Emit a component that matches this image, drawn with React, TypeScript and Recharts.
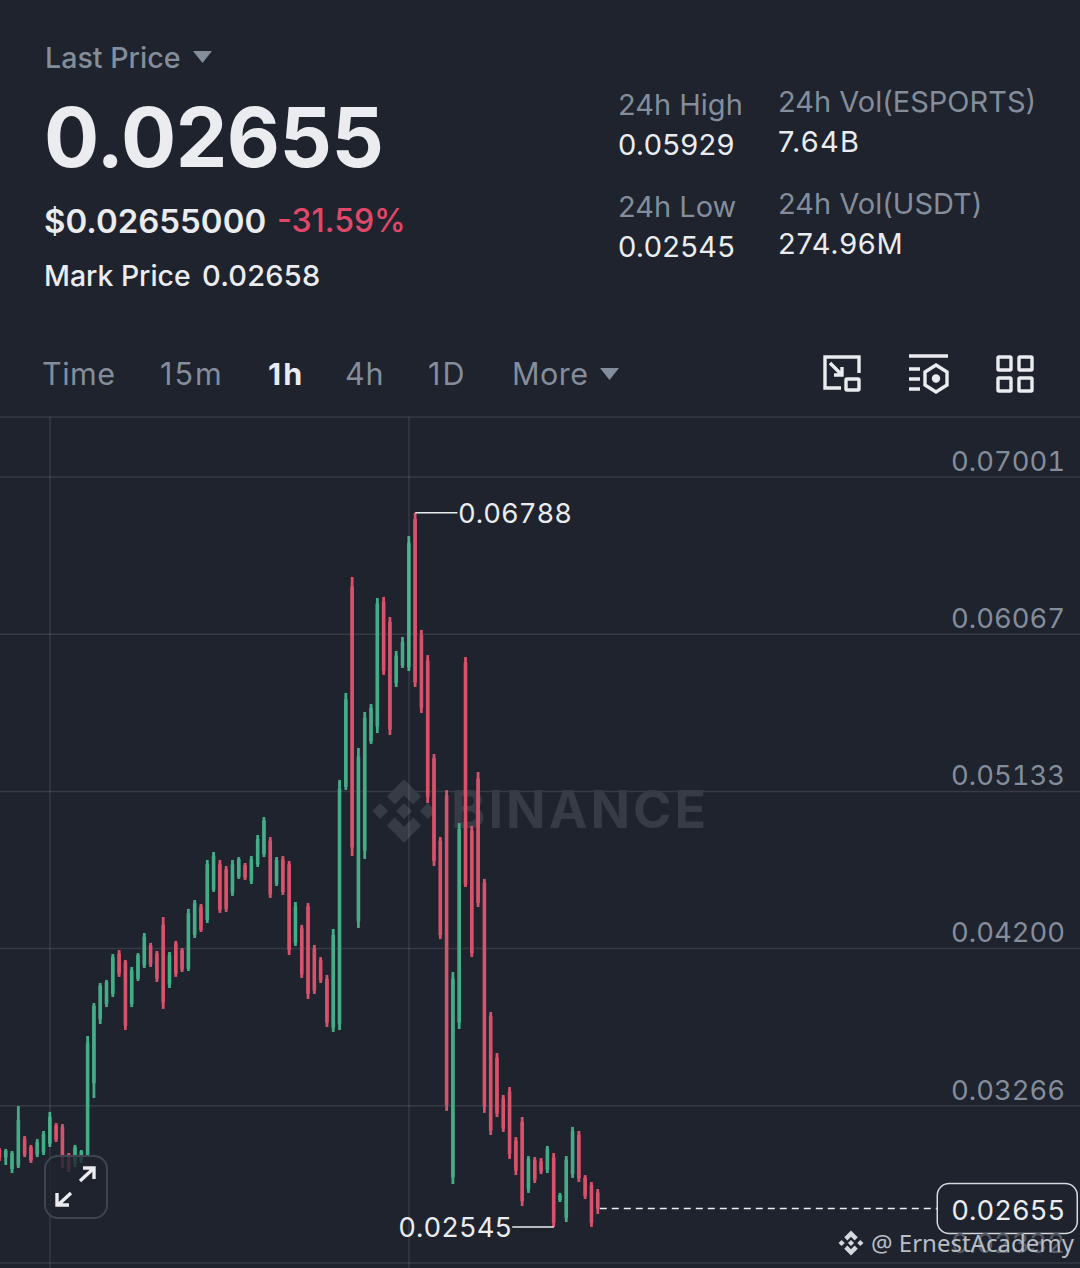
import React from 'react';
import { ComposedChart, Bar, XAxis, YAxis, CartesianGrid, ReferenceLine, ReferenceDot } from 'recharts';

const highs = [.03015,.03009,.02997,.03264,.03086,.03033,.03068,.03116,.03229,.03163,.03157,.02985,.03033,.03003,.0368,.03876,.03995,.04013,.04167,.04191,.04132,.0409,.04173,.04292,.04233,.04185,.04387,.04179,.04245,.04203,.04435,.04488,.04464,.04726,.04773,.04726,.0469,.04726,.04743,.04708,.04749,.04874,.04981,.04862,.04743,.04749,.0472,.04476,.0434,.0447,.04221,.04149,.04043,.04316,.05201,.05718,.06407,.05391,.05605,.05652,.06282,.06288,.06169,.05967,.0605,.0665,.06788,.06092,.05943,.05355,.04862,.05141,.0406,.04945,.05931,.04928,.05248,.04613,.03823,.03579,.0333,.03377,.0308,.03199,.02967,.02961,.02955,.03027,.02985,.02748,.02967,.0314,.03116,.02854,.02813,.02771];
const lows = [.02938,.02914,.02866,.02896,.02961,.02926,.02961,.02973,.03021,.0305,.02896,.02872,.02902,.02926,.02961,.03312,.03751,.03852,.03912,.04031,.03716,.03852,.04007,.04084,.0409,.04001,.03841,.03965,.04031,.0406,.04066,.04262,.04298,.04351,.04536,.04411,.04417,.04512,.04613,.04607,.04583,.04684,.04743,.045,.04571,.04518,.04161,.04215,.04025,.039,.0393,.03995,.03734,.03704,.03716,.05141,.04749,.04322,.04732,.05415,.0548,.05825,.05468,.05753,.05866,.05848,.05753,.05599,.05064,.0469,.04256,.03235,.02801,.03722,.04565,.04149,.04446,.03223,.03092,.03199,.0311,.0295,.02854,.0267,.02748,.02807,.0286,.02866,.02545,.02694,.02575,.02837,.02813,.02712,.02546,.02623];
const opens = [.03005,.0296,.0289,.0291,.0307,.0302,.02975,.0299,.0304,.0315,.0314,.02975,.0292,.0294,.02975,.034,.0378,.0387,.0393,.0417,.0412,.0387,.0402,.041,.0422,.0417,.0434,.03985,.0423,.0419,.0408,.0428,.0445,.0437,.0455,.047,.0467,.0453,.04625,.04695,.046,.047,.0476,.0484,.04585,.0473,.047,.04235,.0432,.0445,.042,.0413,.0402,.0373,.0375,.0516,.0635,.0436,.0478,.0543,.0552,.0626,.0614,.05775,.0588,.0587,.0675,.0606,.0591,.0533,.0484,.0511,.0284,.0376,.059,.049,.0521,.0459,.038,.0355,.0331,.0335,.0306,.0317,.0277,.02945,.02935,.02885,.0296,.02705,.026,.0286,.03095,.0284,.02795,.0275];
const closes = [.0296,.03,.02985,.0318,.02975,.0294,.0305,.031,.032,.03065,.0296,.0289,.0302,.02995,.0364,.0386,.0398,.04,.0415,.0405,.0374,.0407,.0416,.0427,.04105,.0402,.0388,.0416,.0405,.04075,.0441,.0447,.0431,.047,.0475,.0443,.04435,.047,.0473,.0462,.0473,.0485,.0496,.0452,.04725,.04535,.0419,.0445,.04045,.0393,.0395,.0401,.0376,.0428,.0515,.0568,.048,.0534,.0557,.0563,.0625,.0585,.055,.0594,.0602,.0661,.0578,.0563,.051,.0472,.0428,.0327,.0402,.0491,.0458,.0417,.0447,.0326,.0312,.0322,.0313,.0298,.0288,.027,.0295,.02825,.02875,.0301,.0257,.02735,.02945,.03115,.02835,.0273,.0257,.02655];

const priceTicks = [0.07001, 0.06067, 0.05133, 0.042, 0.03266, 0.02332];
const timeGridTicks = [8, 65];
const lastPrice = 0.02655;
const highMark = 0.06788;
const lowMark = 0.02545;

const candles = highs.map((high, i) => ({ i, high, low: lows[i], open: opens[i], close: closes[i] }));

const BG = '#1e232d';
const GREY = '#848d9b';
const WHITE = '#eaecef';
const GREEN = '#44ad88';
const RED = '#d8526c';
const FONT = 'Inter, "Noto Sans", sans-serif';
const TNUM = { fontFeatureSettings: '"tnum"' };

const Candle = (props: any) => {
  const { x, y, width, height, payload } = props;
  const { high, low, open, close } = payload;
  const py = (p: number) => y + ((high - p) / (high - low)) * height;
  const c = x + width / 2;
  const color = close >= open ? GREEN : RED;
  const top = py(Math.max(open, close));
  const bot = py(Math.min(open, close));
  return (
    <g>
      <rect x={c - 1.4} y={y} width={2.8} height={height} fill={color} />
      <rect x={c - 1.8} y={top} width={3.6} height={Math.max(bot - top, 1)} fill={color} />
    </g>
  );
};

const PriceTick = (props: any) => {
  const { y, payload } = props;
  const muted = payload.value < 0.025;
  return (
    <text x={1065} y={y - 16} textAnchor="end" dominantBaseline="central" fontFamily={FONT} fontSize={27.4} style={TNUM} fill={muted ? '#565c66' : GREY}>
      {payload.value.toFixed(5)}
    </text>
  );
};

const T = ({ l, c, s, col = GREY, w = 400, ls = 0, children }: any) => (
  <div style={{ position: 'absolute', left: l, top: c - 30, height: 60, lineHeight: '60px', fontSize: s, color: col, fontWeight: w, fontFamily: FONT, letterSpacing: ls, whiteSpace: 'nowrap' }}>
    {children}
  </div>
);

const Logo = ({ x, y, s, col }: any) => (
  <svg style={{ position: 'absolute', left: x - s / 2, top: y - s / 2 }} width={s} height={s} viewBox="0 0 100 100">
    <g fill={col}>
      <path d="M50 2 L76 28 L64 40 L50 26 L36 40 L24 28 Z" />
      <path d="M50 98 L76 72 L64 60 L50 74 L36 60 L24 72 Z" />
      <path d="M2 50 L14 38 L26 50 L14 62 Z" />
      <path d="M98 50 L86 38 L74 50 L86 62 Z" />
      <path d="M50 38 L62 50 L50 62 L38 50 Z" />
    </g>
  </svg>
);

export default function App() {
  return (
    <div style={{ position: 'fixed', left: 0, top: 0, width: 1080, height: 1268, background: BG, overflow: 'hidden' }}>
      <T l={45} c={58} s={28.6} w={500}>Last Price</T>
      <svg style={{ position: 'absolute', left: 192, top: 50 }} width={22} height={14}><path d="M1 1 H20 L10.5 13 Z" fill={GREY} /></svg>
      <div style={{ position: 'absolute', left: 44, top: 88, lineHeight: '100px', fontSize: 82, fontWeight: 700, color: WHITE, fontFamily: FONT, letterSpacing: -0.5 }}>0.02655</div>
      <T l={44} c={221} s={33} col={WHITE} w={600}>$0.02655000</T>
      <T l={277} c={221} s={32} col="#e0486a" w={500}>-31.59%</T>
      <T l={44} c={276} s={28.4} col={WHITE} w={500}>Mark Price</T>
      <T l={202} c={276} s={29} col={WHITE} w={500} ls={0.2}>0.02658</T>

      <T l={618} c={105} s={29}>24h High</T>
      <T l={618} c={145} s={29} col={WHITE} ls={0.3}>0.05929</T>
      <T l={618} c={207} s={29}>24h Low</T>
      <T l={618} c={247} s={29} col={WHITE} ls={0.3}>0.02545</T>
      <T l={778} c={102} s={29}>24h Vol(ESPORTS)</T>
      <T l={778} c={142} s={29} col={WHITE} ls={1.2}>7.64B</T>
      <T l={778} c={204} s={29}>24h Vol(USDT)</T>
      <T l={778} c={244} s={29} col={WHITE} ls={0.7}>274.96M</T>

      <T l={42} c={374} s={30.5} ls={0.5}>Time</T>
      <T l={160} c={374} s={30.5} ls={2}>15m</T>
      <T l={268} c={374} s={30.5} col={WHITE} w={700} ls={2}>1h</T>
      <T l={345} c={374} s={30.5} ls={0.8}>4h</T>
      <T l={428} c={374} s={30.5} ls={2}>1D</T>
      <T l={512} c={374} s={30.5} ls={0.5}>More</T>
      <svg style={{ position: 'absolute', left: 599, top: 367 }} width={22} height={14}><path d="M1 1 H20 L10.5 13 Z" fill={GREY} /></svg>

      <svg style={{ position: 'absolute', left: 820, top: 352 }} width={220} height={44} fill="none" stroke={WHITE} strokeWidth={3.4}>
        <path d="M21 36 H5 V5 H39 V21" />
        <rect x={26} y={27} width={13} height={11} rx={1} />
        <path d="M10 11 L22 23 M14 23 H22 V15" />
        <path d="M89 4 H128" />
        <path d="M89 17 H100 M89 27 H100 M89 37 H100" />
        <path d="M116 13 L127 20 V33 L116 40 L105 33 V20 Z" />
        <circle cx={116} cy={26.5} r={2.5} fill={WHITE} />
        <rect x={178} y={5} width={13} height={13} rx={1} />
        <rect x={199} y={5} width={13} height={13} rx={1} />
        <rect x={178} y={26} width={13} height={13} rx={1} />
        <rect x={199} y={26} width={13} height={13} rx={1} />
      </svg>

      <div style={{ position: 'absolute', left: 0, top: 415.5, width: 1080, height: 2, background: '#2e343d' }} />

      <Logo x={404} y={811} s={66} col="#363b45" />
      <div style={{ position: 'absolute', left: 451, top: 770, lineHeight: '80px', fontSize: 52, fontWeight: 700, color: '#363b45', fontFamily: FONT, letterSpacing: 3 }}>BINANCE</div>

      <div style={{ position: 'absolute', left: 0, top: 417 }}>
        <ComposedChart width={1080} height={851} data={candles} margin={{ top: 0, right: 0, bottom: 0, left: 0 }}>
          <CartesianGrid stroke="#353a44" strokeWidth={1.5} syncWithTicks vertical={false} />
          <XAxis dataKey="i" type="number" mirror domain={[0.0635, 171.55]} allowDataOverflow ticks={timeGridTicks} tick={false} axisLine={false} tickLine={false} height={1} />
          <YAxis type="number" orientation="right" mirror domain={[0.02302, 0.07357]} allowDataOverflow ticks={priceTicks} tick={<PriceTick />} axisLine={false} tickLine={false} width={1} />
          <Bar dataKey={(d: any) => [d.low, d.high]} barSize={4} shape={<Candle />} isAnimationActive={false} />
          {timeGridTicks.map((t) => (
            <ReferenceLine key={t} x={t} stroke="#ffffff" strokeOpacity={0.1} strokeWidth={1.5} />
          ))}
          <ReferenceLine segment={[{ x: 66, y: highMark }, { x: 72.7, y: highMark }]} stroke={WHITE} strokeWidth={1.5} />
          <ReferenceLine segment={[{ x: 81.4, y: lowMark }, { x: 88, y: lowMark }]} stroke={WHITE} strokeWidth={1.5} />
          <ReferenceLine segment={[{ x: 95.3, y: lastPrice }, { x: 149, y: lastPrice }]} stroke={WHITE} strokeWidth={1.5} strokeDasharray="7 5" />
          <ReferenceDot x={72.8} y={highMark} r={0} shape={(p: any) => (
            <text x={p.cx} y={p.cy} dominantBaseline="central" fontFamily={FONT} fontSize={27.4} style={TNUM} fill={WHITE}>{highMark.toFixed(5)}</text>
          )} />
          <ReferenceDot x={81.4} y={lowMark} r={0} shape={(p: any) => (
            <text x={p.cx} y={p.cy} textAnchor="end" dominantBaseline="central" fontFamily={FONT} fontSize={27.4} style={TNUM} fill={WHITE}>{lowMark.toFixed(5)}</text>
          )} />
          <ReferenceDot x={160} y={lastPrice} r={0} shape={(p: any) => (
            <g>
              <rect x={p.cx - 70} y={p.cy - 25} width={140} height={50} rx={12} fill={BG} stroke="#d5d8dc" strokeWidth={1.5} />
              <text x={p.cx + 1} y={p.cy + 1} textAnchor="middle" dominantBaseline="central" fontFamily={FONT} fontSize={27.4} style={TNUM} fill={WHITE}>{lastPrice.toFixed(5)}</text>
            </g>
          )} />
        </ComposedChart>
      </div>

      <div style={{ position: 'absolute', left: 44, top: 1155, width: 60, height: 60, border: '2px solid #3f4550', borderRadius: 14, background: 'rgba(30,35,45,0.8)' }} />
      <svg style={{ position: 'absolute', left: 52, top: 1163 }} width={48} height={48} fill="none" stroke={WHITE} strokeWidth={3.4}>
        <path d="M28 18 L42 5 M31 5 H42 V16" />
        <path d="M19 30 L6 42 M5 30 V42 H17" />
      </svg>

      <Logo x={851} y={1243} s={26} col="#d5d8dc" />
      <div style={{ position: 'absolute', left: 871, top: 1223, lineHeight: '40px', fontSize: 24, color: '#b9bdc4', fontFamily: '"Noto Sans", sans-serif', whiteSpace: 'nowrap' }}>@ ErnestAcademy</div>
    </div>
  );
}
